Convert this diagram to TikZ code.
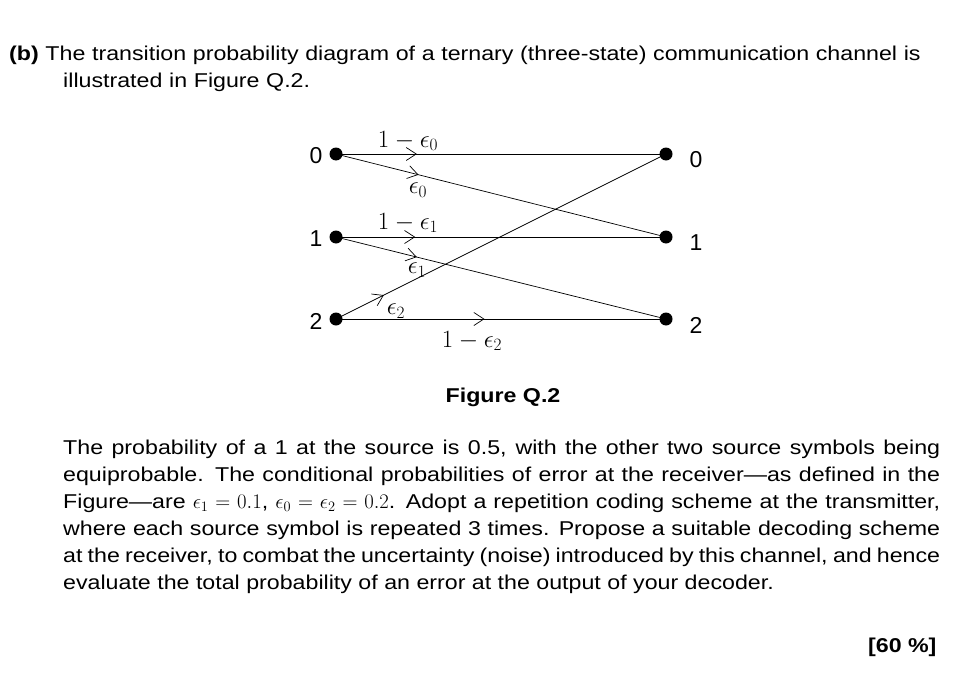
\documentclass[tikz,border=0pt]{standalone}
\usepackage{fontspec}
\setmainfont{Liberation Sans}
\newfontfamily\widefont[FakeStretch=1.16,Ligatures=TeX]{Liberation Sans}
\usetikzlibrary{arrows.meta,decorations.markings}
\begin{document}
\begin{tikzpicture}[x=1pt,y=-1pt,
  dot/.style={circle,fill=black,inner sep=0pt,minimum size=13pt},
  lab/.style={font=\fontsize{23}{27}\selectfont},
  elab/.style={font=\fontsize{26}{30}\selectfont,inner sep=1pt},
  chan/.style={line width=0.7pt,postaction={decorate},decoration={markings,mark=at position #1 with {\arrow{Straight Barb[length=10pt,width=13pt,line width=0.7pt]}}}},
  txt/.style={font=\widefont\fontsize{20}{27}\selectfont,inner sep=0pt,anchor=north west}]
\useasboundingbox (0,0) rectangle (975,680);
\node[txt,text width=940pt,align=left] (hdr) at (9,46) {\textbf{(b)}~The transition probability diagram of a ternary (three-state) communication channel is\\\hspace*{54pt}illustrated in Figure Q.2.};
\node[dot] (a0) at (336,154) {};
\node[dot] (a1) at (336,237) {};
\node[dot] (a2) at (336,319) {};
\node[dot] (b0) at (666,154) {};
\node[dot] (b1) at (666,237) {};
\node[dot] (b2) at (666,319) {};
\node[lab] (l0) at (316,156) {0};
\node[lab] (l1) at (316,239) {1};
\node[lab] (l2) at (316,321) {2};
\node[lab] (r0) at (696,160) {0};
\node[lab] (r1) at (696,243) {1};
\node[lab] (r2) at (696,325) {2};
\draw[chan=0.245] (a0.center) -- (b0.center);
\draw[chan=0.25] (a0.center) -- (b1.center);
\draw[chan=0.24] (a1.center) -- (b1.center);
\draw[chan=0.245] (a1.center) -- (b2.center);
\draw[chan=0.145] (a2.center) -- (b0.center);
\draw[chan=0.45] (a2.center) -- (b2.center);
\node[elab] (e0a) at (408,141) {$1-\epsilon_0$};
\node[elab] (e0b) at (418,190) {$\epsilon_0$};
\node[elab] (e1a) at (408,223) {$1-\epsilon_1$};
\node[elab] (e1b) at (417,270) {$\epsilon_1$};
\node[elab] (e2a) at (396,311) {$\epsilon_2$};
\node[elab] (e2b) at (472,341) {$1-\epsilon_2$};
\node[font=\widefont\bfseries\fontsize{20}{24}\selectfont] (cap) at (503,397) {Figure Q.2};
\node[txt,text width=877pt,align=justify] (par) at (63,440) {The probability of a 1 at the source is 0.5, with the other two source symbols being\linebreak equiprobable. The conditional probabilities of error at the receiver—as defined in the\linebreak Figure—are $\epsilon_1=0.1$, $\epsilon_0=\epsilon_2=0.2$. Adopt a repetition coding scheme at the transmitter,\linebreak where each source symbol is repeated 3 times. Propose a suitable decoding scheme\linebreak at the receiver, to combat the uncertainty (noise) introduced by this channel, and hence\linebreak evaluate the total probability of an error at the output of your decoder.};
\node[font=\widefont\bfseries\fontsize{20}{24}\selectfont,anchor=east] (pct) at (940,647) {[60 \%]};
\end{tikzpicture}
\end{document}
